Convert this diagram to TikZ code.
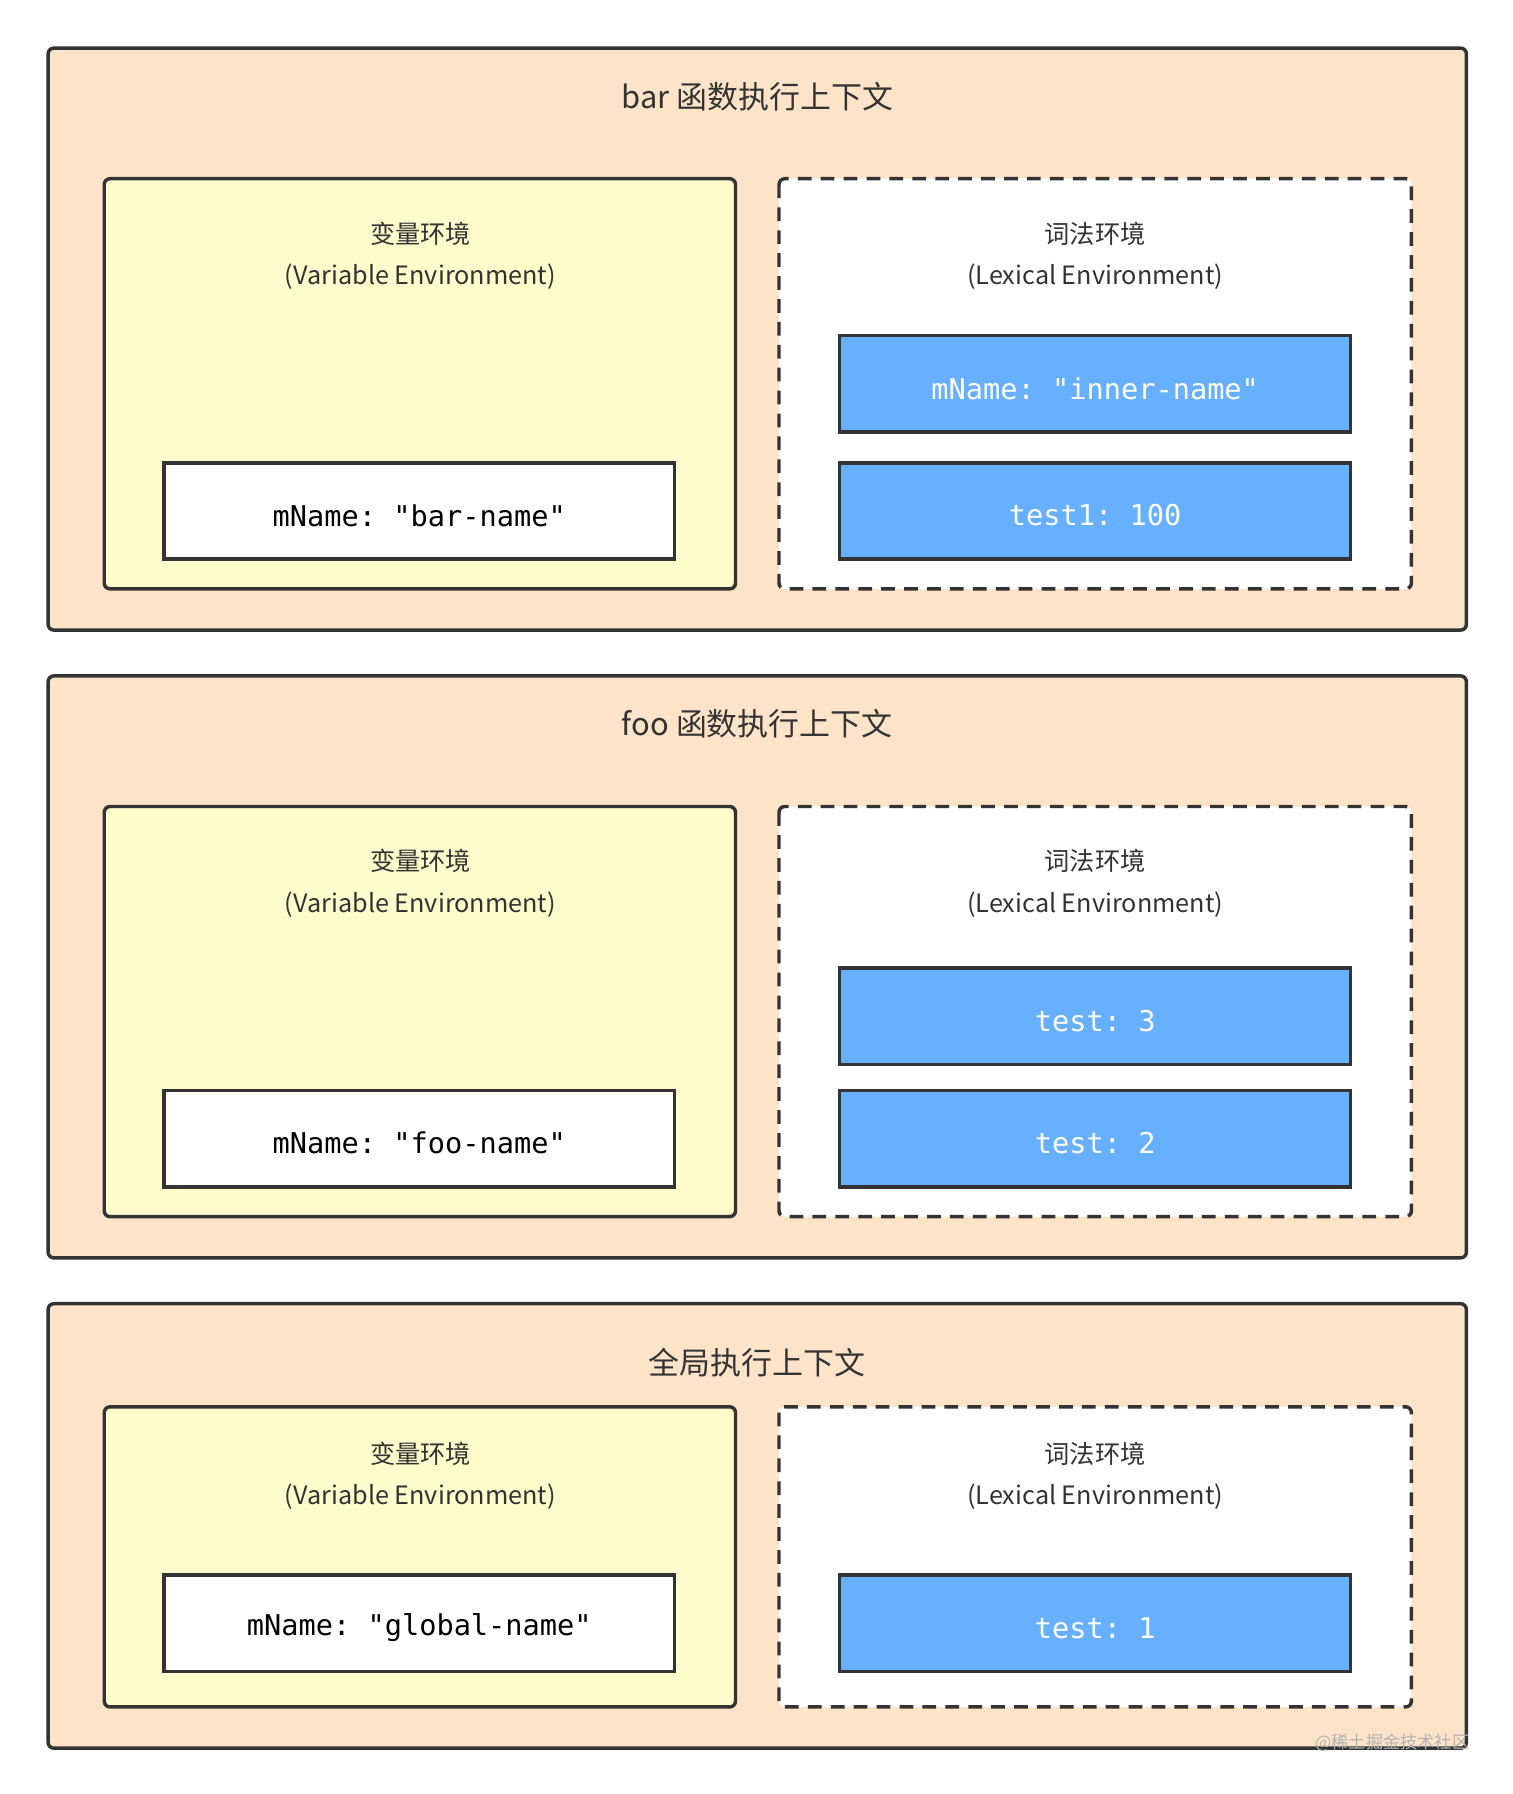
\documentclass[tikz,border=0pt]{standalone}
\usepackage{fontspec}
\setmainfont{Noto Sans CJK SC}
\setmonofont{DejaVu Sans Mono}
\definecolor{peach}{HTML}{FDE4C9}
\definecolor{ylw}{HTML}{FEFCCB}
\definecolor{blu}{HTML}{66B0FF}
\definecolor{edge}{HTML}{333333}
\begin{document}
\begin{tikzpicture}[x=1pt,y=-1pt,
  outer/.style={draw=edge,line width=3pt,fill=peach,rounded corners=5pt},
  varenv/.style={draw=edge,line width=3pt,fill=ylw,rounded corners=5pt},
  lexenv/.style={draw=edge,line width=3pt,fill=white,rounded corners=5pt,dash pattern=on 12pt off 8pt},
  wbox/.style={draw=edge,line width=3pt,fill=white},
  bbox/.style={draw=edge,line width=3pt,fill=blu},
  ttl/.style={font=\fontsize{27}{32}\selectfont,text=edge},
  lbl/.style={font=\fontsize{22}{36}\selectfont,text=edge,align=center},
  code/.style={font=\ttfamily\fontsize{25}{30}\selectfont,text=black},
  wcode/.style={font=\ttfamily\fontsize{25}{30}\selectfont,text=white}]
\useasboundingbox (0,0) rectangle (1320,1566);
\fill[white] (0,0) rectangle (1320,1566);
% bar
\draw[outer] (42,42) rectangle (1280,550);
\node[ttl] (t1) at (661,84) {bar 函数执行上下文};
\draw[varenv] (91,156) rectangle (642,514);
\draw[lexenv] (680,156) rectangle (1232,514);
\node[lbl] (v1) at (367,223) {变量环境\\(Variable Environment)};
\node[lbl] (l1) at (956,223) {词法环境\\(Lexical Environment)};
\draw[wbox] (143,404) rectangle (589,488);
\node[code] (c1) at (366,450) {mName: "bar-name"};
\draw[bbox] (733,293) rectangle (1179,377);
\node[wcode] (c2) at (956,339) {mName: "inner-name"};
\draw[bbox] (733,404) rectangle (1179,488);
\node[wcode] (c3) at (956,450) {test1: 100};
% foo
\draw[outer] (42,590) rectangle (1280,1098);
\node[ttl] (t2) at (661,632) {foo 函数执行上下文};
\draw[varenv] (91,704) rectangle (642,1062);
\draw[lexenv] (680,704) rectangle (1232,1062);
\node[lbl] (v2) at (367,771) {变量环境\\(Variable Environment)};
\node[lbl] (l2) at (956,771) {词法环境\\(Lexical Environment)};
\draw[wbox] (143,952) rectangle (589,1036);
\node[code] (c4) at (366,998) {mName: "foo-name"};
\draw[bbox] (733,845) rectangle (1179,929);
\node[wcode] (c5) at (956,891) {test: 3};
\draw[bbox] (733,952) rectangle (1179,1036);
\node[wcode] (c6) at (956,998) {test: 2};
% global
\draw[outer] (42,1138) rectangle (1280,1526);
\node[ttl] (t3) at (661,1189) {全局执行上下文};
\draw[varenv] (91,1228) rectangle (642,1490);
\draw[lexenv] (680,1228) rectangle (1232,1490);
\node[lbl] (v3) at (367,1288) {变量环境\\(Variable Environment)};
\node[lbl] (l3) at (956,1288) {词法环境\\(Lexical Environment)};
\draw[wbox] (143,1375) rectangle (589,1459);
\node[code] (c7) at (366,1421) {mName: "global-name"};
\draw[bbox] (733,1375) rectangle (1179,1459);
\node[wcode] (c8) at (956,1421) {test: 1};
\node[font=\fontsize{15}{18}\selectfont,text=black!30,anchor=east] (wm) at (1286,1521) {@稀土掘金技术社区};
\end{tikzpicture}
\end{document}
